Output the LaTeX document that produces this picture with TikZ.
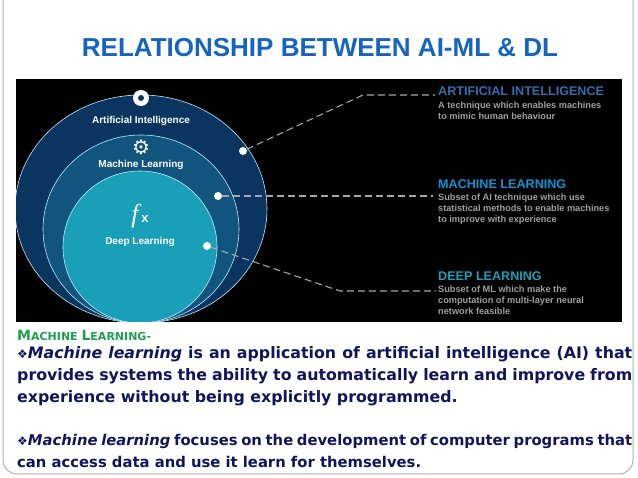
\documentclass[tikz,border=0pt]{standalone}
\usepackage{fontspec}
\setmainfont{Liberation Sans}
\newfontfamily\djv{DejaVu Sans}
\usetikzlibrary{positioning}
\definecolor{navy}{HTML}{0A3560}
\definecolor{mlc}{HTML}{11557E}
\definecolor{dlc}{HTML}{1A9FB8}
\definecolor{titleblue}{HTML}{1565C0}
\definecolor{bodyc}{HTML}{14145A}
\definecolor{headg}{HTML}{1FA050}
\begin{document}
\begin{tikzpicture}[x=1pt,y=-1pt,
  circ/.style={draw=white!75!cyan,line width=0.6pt},
  dotn/.style={circle,fill=white,inner sep=0pt,minimum size=8pt},
  lead/.style={draw=gray!70,dashed,dash pattern=on 7pt off 4pt,line width=1.1pt},
  rtitle/.style={anchor=north west,font=\bfseries\fontsize{12.6}{13}\selectfont,inner sep=0pt},
  rdesc/.style={anchor=north west,font=\bfseries\fontsize{9.2}{11}\selectfont,text=gray!75,align=left,inner sep=0pt},
  clab/.style={text=white,font=\bfseries\fontsize{10}{11}\selectfont},
  body/.style={anchor=north west,text width=615pt,align=justify,inner sep=0pt,text=bodyc,font=\djv\bfseries\fontsize{15.8}{22}\selectfont}]
\useasboundingbox (0,0) rectangle (638,478);
\fill[white] (0,0) rectangle (638,478);
\draw[gray!60,line width=1pt,rounded corners=14pt] (3,-30) rectangle (633,474);
\node[font=\bfseries\fontsize{26}{28}\selectfont,text=titleblue] (title) at (320,48) {RELATIONSHIP BETWEEN AI-ML \& DL};
\fill[black] (16,79) rectangle (622,322);
\begin{scope}
\clip (16,79) rectangle (622,322);
\draw[circ,fill=navy] (141,209) ellipse [x radius=126,y radius=114];
\draw[circ,fill=mlc] (141,229) ellipse [x radius=98,y radius=94];
\draw[circ,fill=dlc] (140,247) ellipse [x radius=77,y radius=76];
\end{scope}
\node[circle,fill=white,minimum size=16pt,inner sep=0pt] (aiicon) at (141,98) {};
\node[circle,fill=navy,minimum size=6pt,inner sep=0pt] at (aiicon) {};
\node[clab] (ailab) at (141,121) {Artificial Intelligence};
\node[text=white,font=\djv\fontsize{20}{20}\selectfont] (mlicon) at (141,147) {⚙};
\node[clab] (mllab) at (141,165) {Machine Learning};
\node[text=white] (dlicon) at (140,216) {\fontspec{Liberation Serif}\fontsize{26}{26}\selectfont\textit{f}\fontspec{Liberation Sans}\bfseries\fontsize{13}{13}\selectfont x};
\node[clab] (dllab) at (140,242) {Deep Learning};
\node[dotn] (aid) at (243,151) {};
\node[dotn] (mld) at (218,196) {};
\node[dotn] (dld) at (207,246) {};
\coordinate (aib) at (363,95);
\coordinate (aie) at (435,95);
\coordinate (mle) at (433,196);
\coordinate (dlb) at (340,291);
\coordinate (dle) at (436,291);
\draw[lead] (aid) -- (aib) -- (aie);
\draw[lead] (mld) -- (mle);
\draw[lead] (dld) -- (dlb) -- (dle);
\node[rtitle,text=titleblue!70!gray] (ait) at (438,87) {ARTIFICIAL INTELLIGENCE};
\node[rdesc] (aidesc) at (438,102) {A technique which enables machines\\to mimic human behaviour};
\node[rtitle,text=titleblue!70!cyan] (mlt) at (438,180) {MACHINE LEARNING};
\node[rdesc] (mldesc) at (438,194) {Subset of AI technique which use\\statistical methods to enable machines\\to improve with experience};
\node[rtitle,text=dlc] (dlt) at (438,272) {DEEP LEARNING};
\node[rdesc] (dldesc) at (438,286) {Subset of ML which make the\\computation of multi-layer neural\\network feasible};
\node[anchor=north west,inner sep=0pt,text=headg,font=\djv\bfseries\fontsize{14}{16}\selectfont] (mlhead) at (17,330) {M\fontsize{11}{16}\selectfont ACHINE \fontsize{14}{16}\selectfont L\fontsize{11}{16}\selectfont EARNING-};
\node[body] (p1) at (17,346) {\lefthyphenmin=100 \righthyphenmin=100 {\fontsize{12}{12}\selectfont❖}\textit{Machine learning} is an application of artificial intelligence (AI) that provides systems the ability to automatically learn and improve from experience without being explicitly programmed.};
\node[body,font=\djv\bfseries\fontsize{14.8}{22}\selectfont] (p2) at (17,434) {\lefthyphenmin=100 \righthyphenmin=100 {\fontsize{12}{12}\selectfont❖}\textit{Machine learning} focuses on the development of computer programs that can access data and use it learn for themselves.};
\end{tikzpicture}
\end{document}
